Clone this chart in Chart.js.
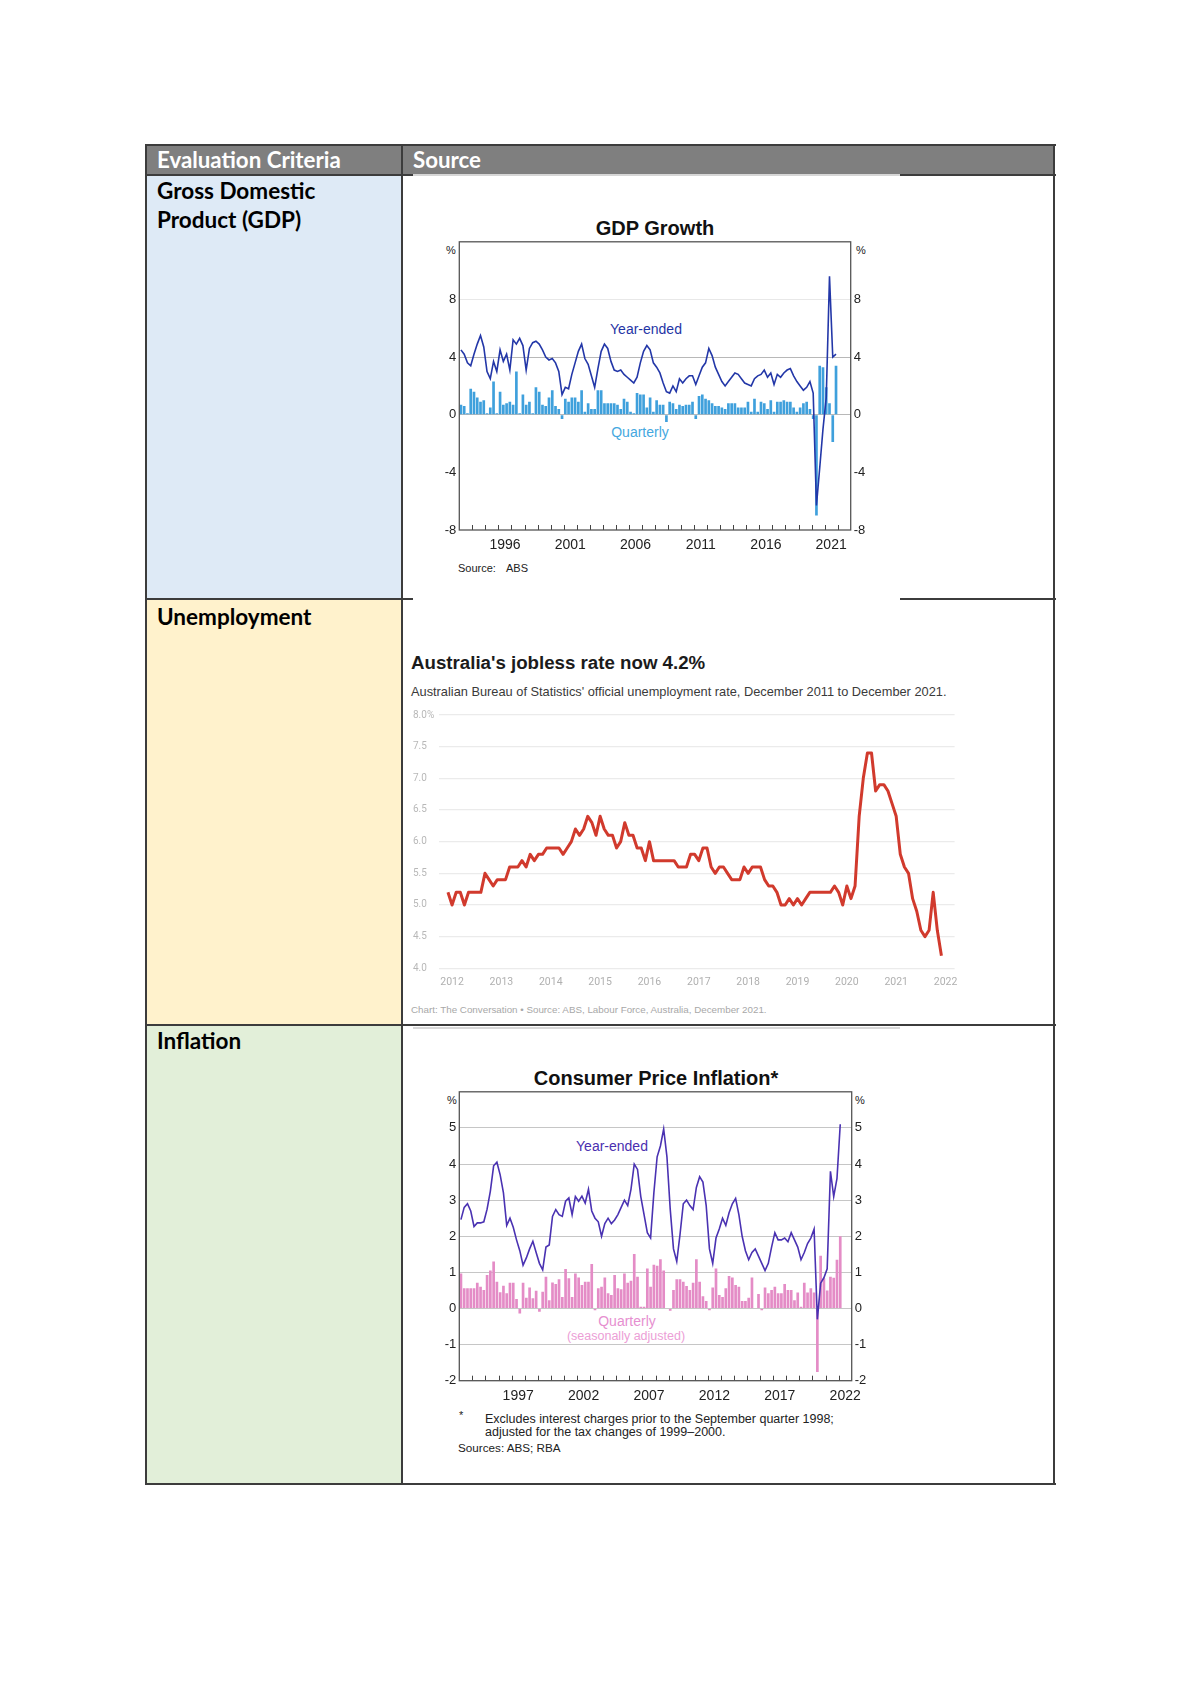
<!DOCTYPE html>
<html>
<head>
<meta charset="utf-8">
<script src="https://cdn.jsdelivr.net/npm/chart.js@4.4.0/dist/chart.umd.min.js"></script>
<style>
  body { margin: 0; width: 1200px; height: 1696px; background: #fff; position: relative; overflow: hidden; font-family: "Liberation Sans", Arial, sans-serif; }
  .box { position: absolute; }
  .t { position: absolute; white-space: nowrap; line-height: 1; transform: translateY(-50%); }
  .c { transform: translate(-50%, -50%); }
  .cell { font-family: Lato, sans-serif; font-weight: 700; font-size: 22.5px; color: #000; }
  .hd { font-family: Lato, sans-serif; font-weight: 700; font-size: 22.3px; color: #fff; }
  .hline { position: absolute; height: 2px; background: #3c3c3c; }
  .vline { position: absolute; width: 2px; background: #3c3c3c; }
  canvas { position: absolute; }
</style>
</head>
<body>

<!-- table backgrounds -->
<div class="box" style="left:146px;top:145px;width:908px;height:30px;background:#7f7f7f"></div>
<div class="box" style="left:146px;top:175px;width:256px;height:424px;background:#deeaf6"></div>
<div class="box" style="left:146px;top:599px;width:256px;height:426px;background:#fff2cc"></div>
<div class="box" style="left:146px;top:1025px;width:256px;height:459px;background:#e2efd9"></div>

<!-- borders -->
<div class="hline" style="left:146px;top:144px;width:910px"></div>
<div class="hline" style="left:146px;top:174px;width:910px"></div>
<div class="hline" style="left:146px;top:598px;width:910px"></div>
<div class="hline" style="left:146px;top:1024px;width:910px"></div>
<div class="hline" style="left:146px;top:1483px;width:910px"></div>
<div class="vline" style="left:145px;top:144px;height:1341px"></div>
<div class="vline" style="left:401px;top:144px;height:1341px"></div>
<div class="vline" style="left:1053px;top:144px;height:1341px"></div>

<!-- pasted picture edges -->
<div class="box" style="left:413px;top:174px;width:487px;height:428px;background:#fff;border-top:2px solid #d6d6d6;box-sizing:border-box"></div>
<div class="box" style="left:413px;top:1027px;width:487px;height:2px;background:#d8d8d8"></div>

<!-- table text -->
<div class="t hd" style="left:157px;top:160px">Evaluation Criteria</div>
<div class="t hd" style="left:413px;top:160px">Source</div>
<div class="t cell" style="left:157px;top:191px">Gross Domestic</div>
<div class="t cell" style="left:157px;top:220px">Product (GDP)</div>
<div class="t cell" style="left:157px;top:617px">Unemployment</div>
<div class="t cell" style="left:157px;top:1041px">Inflation</div>

<!-- GDP chart texts -->
<div class="t c" style="left:655px;top:228px;font-size:20px;font-weight:700;color:#111">GDP Growth</div>
<div class="t c" style="left:451px;top:250px;font-size:11px;color:#222">%</div>
<div class="t c" style="left:861px;top:250px;font-size:11px;color:#222">%</div>
<div class="t c" style="left:646px;top:329px;font-size:14px;color:#1f35a5">Year-ended</div>
<div class="t c" style="left:640px;top:432px;font-size:14px;color:#45a8e0">Quarterly</div>
<div class="t" style="left:458px;top:568px;font-size:11px;color:#222">Source:</div>
<div class="t" style="left:506px;top:568px;font-size:11px;color:#222">ABS</div>

<!-- Unemployment chart texts -->
<div class="t" style="left:411px;top:663px;font-size:18.7px;font-weight:700;color:#1b1b1b">Australia's jobless rate now 4.2%</div>
<div class="t" style="left:411px;top:692px;font-size:12.8px;color:#3a3a3a">Australian Bureau of Statistics' official unemployment rate, December 2011 to December 2021.</div>
<div class="t" style="left:411px;top:1010px;font-size:9.8px;color:#a8a8a8">Chart: The Conversation • Source: ABS, Labour Force, Australia, December 2021.</div>

<!-- CPI chart texts -->
<div class="t c" style="left:656px;top:1078px;font-size:20px;font-weight:700;color:#111">Consumer Price Inflation*</div>
<div class="t c" style="left:452px;top:1100px;font-size:11px;color:#222">%</div>
<div class="t c" style="left:860px;top:1100px;font-size:11px;color:#222">%</div>
<div class="t c" style="left:612px;top:1146px;font-size:14px;color:#4a2fb0">Year-ended</div>
<div class="t c" style="left:627px;top:1321px;font-size:14px;color:#e68fd0">Quarterly</div>
<div class="t c" style="left:626px;top:1336px;font-size:12.5px;color:#ec9ed6">(seasonally adjusted)</div>
<div class="t" style="left:459px;top:1415px;font-size:11px;color:#222">*</div>
<div class="t" style="left:485px;top:1419px;font-size:12.5px;color:#222">Excludes interest charges prior to the September quarter 1998;</div>
<div class="t" style="left:485px;top:1432px;font-size:12.5px;color:#222">adjusted for the tax changes of 1999–2000.</div>
<div class="t" style="left:458px;top:1448px;font-size:11.7px;color:#222">Sources: ABS; RBA</div>

<canvas id="gdp" width="470" height="329" style="left:420px;top:231px"></canvas>
<canvas id="unemp" width="560" height="290" style="left:405px;top:705px"></canvas>
<canvas id="cpi" width="470" height="329" style="left:420px;top:1081px"></canvas>

<script>
// GDP growth, quarterly from 1993 Q1 to 2021 Q4 (%)
const gdpYearEnded = [
  4.5, 4.2, 3.6, 3.4, 4.2, 4.9, 5.5, 4.7, 3.0, 2.5,
  3.7, 3.0, 4.5, 3.7, 4.2, 3.1, 5.2, 4.9, 5.3, 4.8,
  3.1, 4.6, 5.0, 5.1, 4.9, 4.5, 4.0, 3.8, 3.9, 3.6,
  3.0, 1.4, 1.9, 1.8, 2.8, 3.6, 4.4, 4.9, 3.9, 3.5,
  2.7, 1.9, 3.2, 4.4, 4.9, 4.6, 3.7, 3.1, 3.0, 3.1,
  2.8, 2.6, 2.4, 2.2, 2.6, 3.6, 4.4, 4.8, 4.5, 3.6,
  3.3, 2.9, 2.2, 1.6, 1.5, 2.0, 1.6, 2.5, 2.2, 2.5,
  2.7, 2.7, 2.1, 2.7, 3.3, 3.6, 4.6, 4.1, 3.3, 2.8,
  2.3, 2.0, 2.3, 2.6, 2.9, 2.8, 2.5, 2.2, 2.1, 2.0,
  2.5, 2.7, 2.8, 3.1, 2.6, 2.9, 2.1, 2.8, 2.6, 2.9,
  3.1, 3.2, 2.7, 2.3, 2.0, 1.7, 1.9, 2.3, 1.5, -6.3,
  -3.7, -1.0, 1.2, 9.6, 4.0, 4.2
];
const gdpQuarterly = [
  0.7, 0.6, 0.1, 1.8, 1.6, 1.2, 0.9, 1.0, 0.1, 0.5,
  2.3, 0.1, 1.6, 0.7, 0.8, 0.9, 0.7, 3.0, 0.1, 1.4,
  0.7, 0.9, 0.1, 1.9, 1.6, 0.7, 0.6, 1.2, 1.7, 0.6,
  0.4, -0.3, 1.1, 0.9, 1.2, 1.2, 0.9, 1.7, 0.2, 0.8,
  0.4, 0.4, 1.7, 1.7, 0.8, 0.8, 0.8, 0.8, 0.7, 0.4,
  1.1, 0.9, 0.2, 0.1, 1.5, 1.4, 1.4, 0.5, 1.2, 0.2,
  1.0, 0.7, 0.7, -0.5, 0.9, 0.8, 0.4, 0.7, 0.6, 0.7,
  0.7, 0.9, -0.3, 1.3, 1.4, 1.1, 1.0, 0.8, 0.6, 0.6,
  0.5, 0.4, 0.8, 0.8, 0.8, 0.5, 0.5, 0.5, 0.9, 0.2,
  1.1, 0.2, 0.9, 0.8, 0.4, 1.0, 0.2, 0.9, 0.9, 1.0,
  0.9, 0.9, 0.5, 0.2, 0.5, 0.8, 0.9, 0.4, -0.3, -7.0,
  3.4, 3.3, 1.9, 0.8, -1.9, 3.4
];
const gdpYearTicks = ['1996', '2001', '2006', '2011', '2016', '2021'];

// Unemployment rate, monthly from Dec 2011 to Dec 2021 (%)
const unempRate = [
  5.2, 5.0, 5.2, 5.2, 5.0, 5.2, 5.2, 5.2, 5.2, 5.5,
  5.4, 5.3, 5.4, 5.4, 5.4, 5.6, 5.6, 5.6, 5.7, 5.6,
  5.8, 5.7, 5.8, 5.8, 5.9, 5.9, 5.9, 5.9, 5.8, 5.9,
  6.0, 6.2, 6.1, 6.2, 6.4, 6.3, 6.1, 6.4, 6.2, 6.1,
  6.1, 5.9, 6.0, 6.3, 6.1, 6.1, 5.9, 5.9, 5.7, 6.0,
  5.7, 5.7, 5.7, 5.7, 5.7, 5.7, 5.6, 5.6, 5.6, 5.8,
  5.8, 5.7, 5.9, 5.9, 5.6, 5.5, 5.6, 5.6, 5.5, 5.4,
  5.4, 5.4, 5.6, 5.5, 5.6, 5.6, 5.6, 5.4, 5.3, 5.3,
  5.2, 5.0, 5.0, 5.1, 5.0, 5.1, 5.0, 5.1, 5.2, 5.2,
  5.2, 5.2, 5.2, 5.2, 5.3, 5.2, 5.0, 5.3, 5.1, 5.3,
  6.4, 7.0, 7.4, 7.4, 6.8, 6.9, 6.9, 6.8, 6.6, 6.4,
  5.8, 5.6, 5.5, 5.1, 4.9, 4.6, 4.5, 4.6, 5.2, 4.6,
  4.2
];
const unempYears = ['2012', '2013', '2014', '2015', '2016', '2017', '2018', '2019', '2020', '2021', '2022'];

// Consumer price inflation, quarterly from 1993 Q1 to 2022 Q1 (%)
const cpiYearEnded = [
  2.46, 2.8, 2.9, 2.7, 2.27, 2.37, 2.37, 2.4, 2.75, 3.25,
  3.95, 4.05, 3.7, 3.2, 2.3, 2.5, 2.25, 1.9, 1.6, 1.2,
  1.4, 1.65, 1.86, 1.55, 1.25, 1.07, 1.7, 1.76, 2.55, 2.74,
  2.6, 2.55, 2.97, 3.06, 2.6, 3.1, 2.97, 3.11, 2.92, 3.3,
  2.7, 2.5, 2.4, 2.0, 2.35, 2.5, 2.35, 2.45, 2.6, 2.8,
  3.0, 2.85, 3.3, 4.0, 3.85, 3.1, 2.6, 2.1, 1.95, 3.2,
  4.2, 4.5, 4.97, 4.2, 2.75, 1.65, 1.3, 2.05, 2.9, 3.0,
  2.85, 2.74, 3.35, 3.65, 3.5, 2.85, 1.65, 1.25, 1.95, 2.2,
  2.5, 2.3, 2.65, 2.9, 3.05, 2.6, 2.0, 1.6, 1.35, 1.55,
  1.65, 1.45, 1.25, 1.05, 1.25, 1.7, 2.1, 1.9, 1.9, 1.95,
  1.85, 2.1, 1.9, 1.7, 1.35, 1.55, 1.8, 1.95, 2.2, -0.3,
  0.7, 0.85, 1.1, 3.8, 3.1, 3.6, 5.1
];
const cpiQuarterly = [
  0.97, 0.56, 0.56, 0.56, 0.56, 0.71, 0.6, 0.51, 0.93, 1.05,
  1.3, 0.74, 0.45, 0.63, 0.42, 0.71, 0.71, 0.26, -0.14, 0.71,
  0.3, 0.58, 0.28, 0.49, -0.09, 0.46, 0.88, 0.23, 0.72, 0.68,
  0.81, 0.32, 1.09, 0.84, 0.32, 0.97, 0.86, 0.65, 0.74, 0.74,
  1.23, -0.05, 0.56, 0.6, 0.86, 0.42, 0.37, 0.93, 0.56, 0.53,
  0.97, 0.71, 0.77, 1.51, 0.88, 0.05, 0.05, 1.11, 0.6, 1.21,
  1.18, 1.36, 1.05, 0.0, -0.06, 0.51, 0.81, 0.81, 0.74, 0.62,
  0.51, 0.71, 1.36, 0.74, 0.34, 0.21, -0.05, 0.58, 1.11, 0.37,
  0.32, 0.56, 0.9, 0.86, 0.65, 0.6, 0.21, 0.21, 0.3, 0.86,
  0.0, 0.4, -0.05, 0.58, 0.42, 0.51, 0.6, 0.42, 0.42, 0.68,
  0.51, 0.51, 0.23, 0.44, 0.05, 0.71, 0.44, 0.56, 0.44, -1.76,
  1.46, 0.84, 0.5, 0.88, 0.85, 1.35, 2.0
];
const cpiYearTicks = ['1997', '2002', '2007', '2012', '2017', '2022'];

// quarter categories 1993 Q1 .. 2022 Q4 (both RBA charts share the span)
const quarterLabels = [];
for (let y = 1993; y <= 2022; y++) {
    for (let q = 1; q <= 4; q++) quarterLabels.push(y + '-Q' + q);
}

Chart.defaults.font.family = '"Liberation Sans", Arial, sans-serif';
Chart.defaults.animation = false;

// plot frame plus a small tick at every year boundary
const rbaFrame = {
    id: 'rbaFrame',
    afterDraw(chart) {
        const { ctx, chartArea: a } = chart;
        const x = chart.scales.x;
        const half = (x.getPixelForValue(1) - x.getPixelForValue(0)) / 2;
        ctx.save();
        ctx.strokeStyle = '#444';
        ctx.lineWidth = 1;
        for (let i = 4; i < chart.data.labels.length; i += 4) {
            const px = Math.round(x.getPixelForValue(i) - half) + 0.5;
            ctx.beginPath();
            ctx.moveTo(px, a.bottom);
            ctx.lineTo(px, a.bottom - 5);
            ctx.stroke();
        }
        ctx.strokeStyle = '#555';
        ctx.lineWidth = 1.3;
        ctx.strokeRect(a.left, a.top, a.right - a.left, a.bottom - a.top);
        ctx.restore();
    }
};

function rbaOptions(yMin, yMax, step, yearTicks, gridColor, xHeight, rightWidth) {
    const yTicks = {
        stepSize: step,
        color: '#222',
        font: { size: 13 },
        padding: 3,
        callback: v => (v === yMax ? '' : v)
    };
    return {
        responsive: false,
        devicePixelRatio: 1,
        layout: { padding: { top: 6.7, left: 0, right: 0, bottom: 0 } },
        plugins: { legend: { display: false }, tooltip: { enabled: false } },
        scales: {
            x: {
                grid: { display: false, drawTicks: false },
                border: { display: false },
                ticks: {
                    autoSkip: false,
                    maxRotation: 0,
                    color: '#222',
                    font: { size: 14 },
                    padding: 7,
                    labelOffset: -1.6,
                    callback: function (value) {
                        const [yr, q] = this.getLabelForValue(value).split('-Q');
                        return q === '3' && yearTicks.includes(yr) ? yr : '';
                    }
                },
                afterFit: s => { s.height = xHeight; }
            },
            y: {
                position: 'left',
                min: yMin, max: yMax,
                grid: { drawTicks: false, color: gridColor },
                border: { display: false },
                ticks: yTicks,
                afterFit: s => { s.width = 39.3; }
            },
            y2: {
                position: 'right',
                min: yMin, max: yMax,
                grid: { display: false, drawTicks: false },
                border: { display: false },
                ticks: yTicks,
                afterFit: s => { s.width = rightWidth; }
            }
        }
    };
}

// GDP Growth
new Chart(document.getElementById('gdp'), {
    data: {
        labels: quarterLabels,
        datasets: [
            {
                type: 'line',
                data: gdpYearEnded,
                borderColor: '#2337a8',
                borderWidth: 1.6,
                pointRadius: 0,
                tension: 0,
                order: 1
            },
            {
                type: 'bar',
                data: gdpQuarterly,
                backgroundColor: '#3fa0dc',
                barPercentage: 0.82,
                categoryPercentage: 1,
                order: 2
            }
        ]
    },
    options: rbaOptions(-8, 12, 4, gdpYearTicks, ctx => {
        const v = ctx.tick.value;
        if (v === 4 || v === 0) return '#b8b8b8';
        if (v === 8) return '#e8e8e8';
        return 'rgba(0,0,0,0)';
    }, 30, 39.3),
    plugins: [rbaFrame]
});

// Consumer Price Inflation
new Chart(document.getElementById('cpi'), {
    data: {
        labels: quarterLabels,
        datasets: [
            {
                type: 'line',
                data: cpiYearEnded,
                borderColor: '#4a32b2',
                borderWidth: 1.6,
                pointRadius: 0,
                tension: 0,
                order: 1
            },
            {
                type: 'bar',
                data: cpiQuarterly,
                backgroundColor: '#e48cc6',
                barPercentage: 0.82,
                categoryPercentage: 1,
                order: 2
            }
        ]
    },
    options: rbaOptions(-2, 6, 1, cpiYearTicks, ctx => (ctx.tick.value === 6 ? 'rgba(0,0,0,0)' : '#c6c6c6'), 29.3, 38.3),
    plugins: [rbaFrame]
});

// Unemployment rate
new Chart(document.getElementById('unemp'), {
    type: 'line',
    data: {
        datasets: [{
            data: unempRate.map((v, k) => ({ x: k, y: v })),
            borderColor: '#d13a2d',
            borderWidth: 3,
            pointRadius: 0,
            tension: 0,
            borderJoinStyle: 'round'
        }]
    },
    options: {
        responsive: false,
        devicePixelRatio: 1,
        layout: { padding: { top: 10, left: 8, right: 9.5, bottom: 0 } },
        plugins: { legend: { display: false }, tooltip: { enabled: false } },
        scales: {
            x: {
                type: 'linear',
                min: -2.18, max: 123.2,
                grid: { display: false, drawTicks: false },
                border: { display: false },
                afterBuildTicks: s => { s.ticks = unempYears.map((y, i) => ({ value: 1 + 12 * i })); },
                ticks: {
                    color: '#b0b0b0',
                    font: { family: 'Roboto', size: 10.5 },
                    padding: 7.5,
                    maxRotation: 0,
                    callback: v => unempYears[Math.round((v - 1) / 12)]
                },
                afterFit: s => { s.height = 26.7; }
            },
            y: {
                min: 4, max: 8,
                grid: { drawTicks: false, color: '#ebebeb', lineWidth: 1.2 },
                border: { display: false },
                ticks: {
                    stepSize: 0.5,
                    crossAlign: 'far',
                    padding: 0,
                    color: '#b8b8b8',
                    font: { family: 'Roboto', size: 10 },
                    callback: v => (v === 8 ? '8.0%' : v.toFixed(1))
                },
                afterFit: s => { s.width = 26; }
            }
        }
    }
});
</script>
</body>
</html>
